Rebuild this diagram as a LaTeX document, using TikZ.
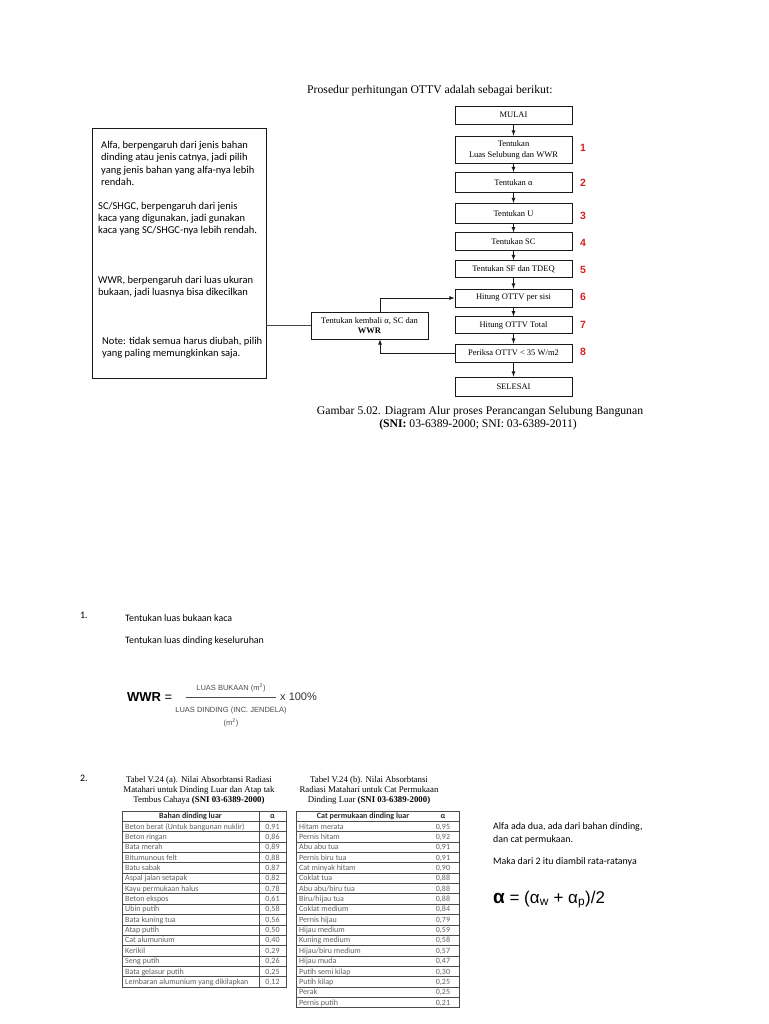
\documentclass[tikz,border=0pt]{standalone}
\usepackage{fontspec}
\setmainfont{Liberation Serif}
\newfontfamily\notefont{Carlito}
\newfontfamily\formfont{Liberation Sans}
\usepackage{xcolor}
\definecolor{boxline}{gray}{0.1}
\definecolor{stepred}{RGB}{215,35,35}
\definecolor{tabink}{gray}{0.38}
\definecolor{ruleink}{gray}{0.3}
\definecolor{formink}{gray}{0.3}
\newcommand{\tabrow}[4]{%
	\node[tabcell, anchor=base west] (#1) at (\tabL+3, \tabY+#2*\tabH+2.6) {#3};
	\node[tabcell, anchor=base] (#1v) at (\tabV, \tabY+#2*\tabH+2.6) {#4};
	\draw[tabrule] (\tabL, \tabY+#2*\tabH-\tabH/2) -- (\tabR, \tabY+#2*\tabH-\tabH/2);
}

\begin{document}
\begin{tikzpicture}[x=1pt, y=-1pt,
		flowbox/.style={draw=boxline, line width=0.8pt, minimum width=117pt, minimum height=18pt, inner sep=1pt, align=center, font=\fontsize{8.5}{9.5}\selectfont},
		stepnum/.style={text=stepred, font=\formfont\bfseries\fontsize{10.5}{12}\selectfont},
		flowarrow/.style={-latex, line width=0.8pt, draw=boxline},
		noteline/.style={anchor=base west, inner sep=0pt, font=\notefont\fontsize{10.5}{12}\selectfont},
		lownote/.style={anchor=base west, inner sep=0pt, font=\notefont\fontsize{9.9}{12}\selectfont},
		tabcap/.style={anchor=base, inner sep=0pt, font=\fontsize{8.8}{10}\selectfont},
		tabcell/.style={inner sep=0pt, text=tabink, font=\notefont\fontsize{8}{9}\selectfont},
		tabhead/.style={anchor=base, inner sep=0pt, text=black!85, font=\notefont\bfseries\fontsize{8}{9}\selectfont},
		tabrule/.style={draw=ruleink, line width=0.6pt},
		fracpart/.style={inner sep=0pt, text=formink, font=\formfont\fontsize{7.5}{9}\selectfont}]
	\fill[white] (0,0) rectangle (768,1024);
	\useasboundingbox (0,0) rectangle (768,1024);
	
	% Title
	\node[anchor=base west, inner sep=0pt, font=\fontsize{11.7}{14}\selectfont] (title) at (307,94) {Prosedur perhitungan OTTV adalah sebagai berikut:};
	
	% Flow boxes
	\node[flowbox] (start) at (513.5,115) {MULAI};
	\node[flowbox, minimum height=27pt, font=\fontsize{8.5}{11}\selectfont] (luas) at (513.5,149.5) {Tentukan\\Luas Selubung dan WWR};
	\node[flowbox, minimum height=20pt] (alfa) at (513.5,182.5) {Tentukan α};
	\node[flowbox, minimum height=20pt] (ukoef) at (513.5,213.5) {Tentukan U};
	\node[flowbox, minimum height=17.5pt] (scoef) at (513.5,241.5) {Tentukan SC};
	\node[flowbox, minimum height=17pt] (sfte) at (513.5,269) {Tentukan SF dan TDEQ};
	\node[flowbox] (sisi) at (513.5,298) {Hitung OTTV per sisi};
	\node[flowbox, minimum height=16.5pt] (total) at (513.5,325) {Hitung OTTV Total};
	\node[flowbox] (cek) at (513.5,353) {Periksa OTTV < 35 W/m2};
	\node[flowbox, minimum height=19pt] (finish) at (513.5,386.5) {SELESAI};
	\node[flowbox, minimum height=27pt] (ulang) at (369.5,325.5) {Tentukan kembali α, SC dan\\\textbf{WWR}};
	
	% Step numbers
	\node[stepnum] (s1) at (583,148) {1};
	\node[stepnum] (s2) at (583,182.5) {2};
	\node[stepnum] (s3) at (583,215.5) {3};
	\node[stepnum] (s4) at (583,242.5) {4};
	\node[stepnum] (s5) at (583,269.5) {5};
	\node[stepnum] (s6) at (583,297) {6};
	\node[stepnum] (s7) at (583,325) {7};
	\node[stepnum] (s8) at (583,352) {8};
	
	% Arrows
	\draw[flowarrow] (start) -- (luas);
	\draw[flowarrow] (luas) -- (alfa);
	\draw[flowarrow] (alfa) -- (ukoef);
	\draw[flowarrow] (ukoef) -- (scoef);
	\draw[flowarrow] (scoef) -- (sfte);
	\draw[flowarrow] (sfte) -- (sisi);
	\draw[flowarrow] (sisi) -- (total);
	\draw[flowarrow] (total) -- (cek);
	\draw[flowarrow] (cek) -- (finish);
	\coordinate (loopx) at (380,0);
	\draw[flowarrow] (cek.west) -| (ulang.south -| loopx);
	\draw[flowarrow] (ulang.north -| loopx) |- (sisi.west);
	
	% Notes box
	\node[draw=boxline, line width=0.8pt, minimum width=174pt, minimum height=250pt, inner sep=0pt] (notes) at (179,253) {};
	\draw[line width=0.8pt, draw=boxline!80] (notes.east |- ulang.west) -- (ulang.west);
	\node[noteline] (alfa1) at (101,148.5) {Alfa, berpengaruh dari jenis bahan};
	\node[noteline] (alfa2) at (101,160.8) {dinding atau jenis catnya, jadi pilih};
	\node[noteline] (alfa3) at (101,173.1) {yang jenis bahan yang alfa-nya lebih};
	\node[noteline] (alfa4) at (101,185.4) {rendah.};
	\node[noteline] (shgc1) at (98,209.5) {SC/SHGC, berpengaruh dari jenis};
	\node[noteline] (shgc2) at (98,221.5) {kaca yang digunakan, jadi gunakan};
	\node[noteline] (shgc3) at (98,233.5) {kaca yang SC/SHGC-nya lebih rendah.};
	\node[noteline] (wwr1) at (98,283.5) {WWR, berpengaruh dari luas ukuran};
	\node[noteline] (wwr2) at (98,295.5) {bukaan, jadi luasnya bisa dikecilkan};
	\node[noteline] (note1) at (102,344.5) {Note: tidak semua harus diubah, pilih};
	\node[noteline] (note2) at (102,356.5) {yang paling memungkinkan saja.};
	
	% Caption
	\node[anchor=base, inner sep=0pt, font=\fontsize{11.7}{14}\selectfont] (cap1) at (480,414) {Gambar 5.02. Diagram Alur proses Perancangan Selubung Bangunan};
	\node[anchor=base, inner sep=0pt, font=\fontsize{11.7}{14}\selectfont] (cap2) at (478,427) {\textbf{(SNI:} 03-6389-2000; SNI: 03-6389-2011)};
	
	% Step 1: WWR
	\node[lownote] (num1) at (80,618) {1.};
	\node[lownote] (bukaan) at (125,621) {Tentukan luas bukaan kaca};
	\node[lownote] (dinding) at (125,643) {Tentukan luas dinding keseluruhan};
	\node[anchor=base west, inner sep=0pt, font=\formfont\fontsize{13}{15}\selectfont] (wwr) at (127,701) {\textbf{WWR} =};
	\draw[formink, line width=0.9pt] (186,697) -- (276,697);
	\node[fracpart] (frtop) at (231,688) {LUAS BUKAAN (m\textsuperscript{2})};
	\node[fracpart] (frbot) at (231,711) {LUAS DINDING (INC. JENDELA)};
	\node[fracpart] (frunit) at (231,723) {(m\textsuperscript{2})};
	\node[anchor=base west, inner sep=0pt, text=black!80, font=\formfont\fontsize{11}{13}\selectfont] (persen) at (280,700) {x 100\%};
	
	% Step 2: alpha tables
	\node[lownote] (num2) at (80,781) {2.};
	\node[tabcap] (capa1) at (199,782.2) {Tabel V.24 (a). Nilai Absorbtansi Radiasi};
	\node[tabcap] (capa2) at (199,792.2) {Matahari untuk Dinding Luar dan Atap tak};
	\node[tabcap] (capa3) at (199,802.2) {Tembus Cahaya \textbf{(SNI 03-6389-2000)}};
	\node[tabcap] (capb1) at (369,782.2) {Tabel V.24 (b). Nilai Absorbtansi};
	\node[tabcap] (capb2) at (369,792.2) {Radiasi Matahari untuk Cat Permukaan};
	\node[tabcap] (capb3) at (369,802.2) {Dinding Luar \textbf{(SNI 03-6389-2000)}};
	
	\def\tabY{826.5}
	\def\tabH{10.35}
	% Table (a)
	\def\tabL{122}
	\def\tabR{286}
	\def\tabV{272.5}
	\draw[tabrule, line width=0.8pt] (\tabL,\tabY-1.5*\tabH) rectangle (\tabR,\tabY+15.5*\tabH);
	\draw[tabrule] (259,\tabY-1.5*\tabH) -- (259,\tabY+15.5*\tabH);
	\node[tabhead] (heada) at (190.5,\tabY-\tabH+2.6) {Bahan dinding luar};
	\node[tabhead] (headav) at (\tabV,\tabY-\tabH+2.6) {α};
	\tabrow{a0}{0}{Beton berat (Untuk bangunan nuklir)}{0,91}
	\tabrow{a1}{1}{Beton ringan}{0,86}
	\tabrow{a2}{2}{Bata merah}{0,89}
	\tabrow{a3}{3}{Bitumunous felt}{0,88}
	\tabrow{a4}{4}{Batu sabak}{0,87}
	\tabrow{a5}{5}{Aspal jalan setapak}{0,82}
	\tabrow{a6}{6}{Kayu permukaan halus}{0,78}
	\tabrow{a7}{7}{Beton ekspos}{0,61}
	\tabrow{a8}{8}{Ubin putih}{0,58}
	\tabrow{a9}{9}{Bata kuning tua}{0,56}
	\tabrow{a10}{10}{Atap putih}{0,50}
	\tabrow{a11}{11}{Cat alumunium}{0,40}
	\tabrow{a12}{12}{Kerikil}{0,29}
	\tabrow{a13}{13}{Seng putih}{0,26}
	\tabrow{a14}{14}{Bata gelasur putih}{0,25}
	\tabrow{a15}{15}{Lembaran alumunium yang dikilapkan}{0,12}
	
	% Table (b)
	\def\tabL{296}
	\def\tabR{459}
	\def\tabV{443}
	\draw[tabrule, line width=0.8pt] (\tabL,\tabY-1.5*\tabH) rectangle (\tabR,\tabY+17.5*\tabH);
	\node[tabhead] (headb) at (363,\tabY-\tabH+2.6) {Cat permukaan dinding luar};
	\node[tabhead] (headbv) at (\tabV,\tabY-\tabH+2.6) {α};
	\tabrow{b0}{0}{Hitam merata}{0,95}
	\tabrow{b1}{1}{Pernis hitam}{0,92}
	\tabrow{b2}{2}{Abu abu tua}{0,91}
	\tabrow{b3}{3}{Pernis biru tua}{0,91}
	\tabrow{b4}{4}{Cat minyak hitam}{0,90}
	\tabrow{b5}{5}{Coklat tua}{0,88}
	\tabrow{b6}{6}{Abu abu/biru tua}{0,88}
	\tabrow{b7}{7}{Biru/hijau tua}{0,88}
	\tabrow{b8}{8}{Coklat medium}{0,84}
	\tabrow{b9}{9}{Pernis hijau}{0,79}
	\tabrow{b10}{10}{Hijau medium}{0,59}
	\tabrow{b11}{11}{Kuning medium}{0,58}
	\tabrow{b12}{12}{Hijau/biru medium}{0,57}
	\tabrow{b13}{13}{Hijau muda}{0,47}
	\tabrow{b14}{14}{Putih semi kilap}{0,30}
	\tabrow{b15}{15}{Putih kilap}{0,25}
	\tabrow{b16}{16}{Perak}{0,25}
	\tabrow{b17}{17}{Pernis putih}{0,21}
	
	% Alpha average
	\node[lownote] (dua1) at (493,829) {Alfa ada dua, ada dari bahan dinding,};
	\node[lownote] (dua2) at (493,842) {dan cat permukaan.};
	\node[lownote] (rata) at (493,864.5) {Maka dari 2 itu diambil rata-ratanya};
	\node[anchor=base west, inner sep=0pt, font=\formfont\fontsize{17}{20}\selectfont] (rumus) at (493,903) {{\fontsize{19}{20}\selectfont\textbf{α}} = (α\textsubscript{w} + α\textsubscript{p})/2};
\end{tikzpicture}
\end{document}
